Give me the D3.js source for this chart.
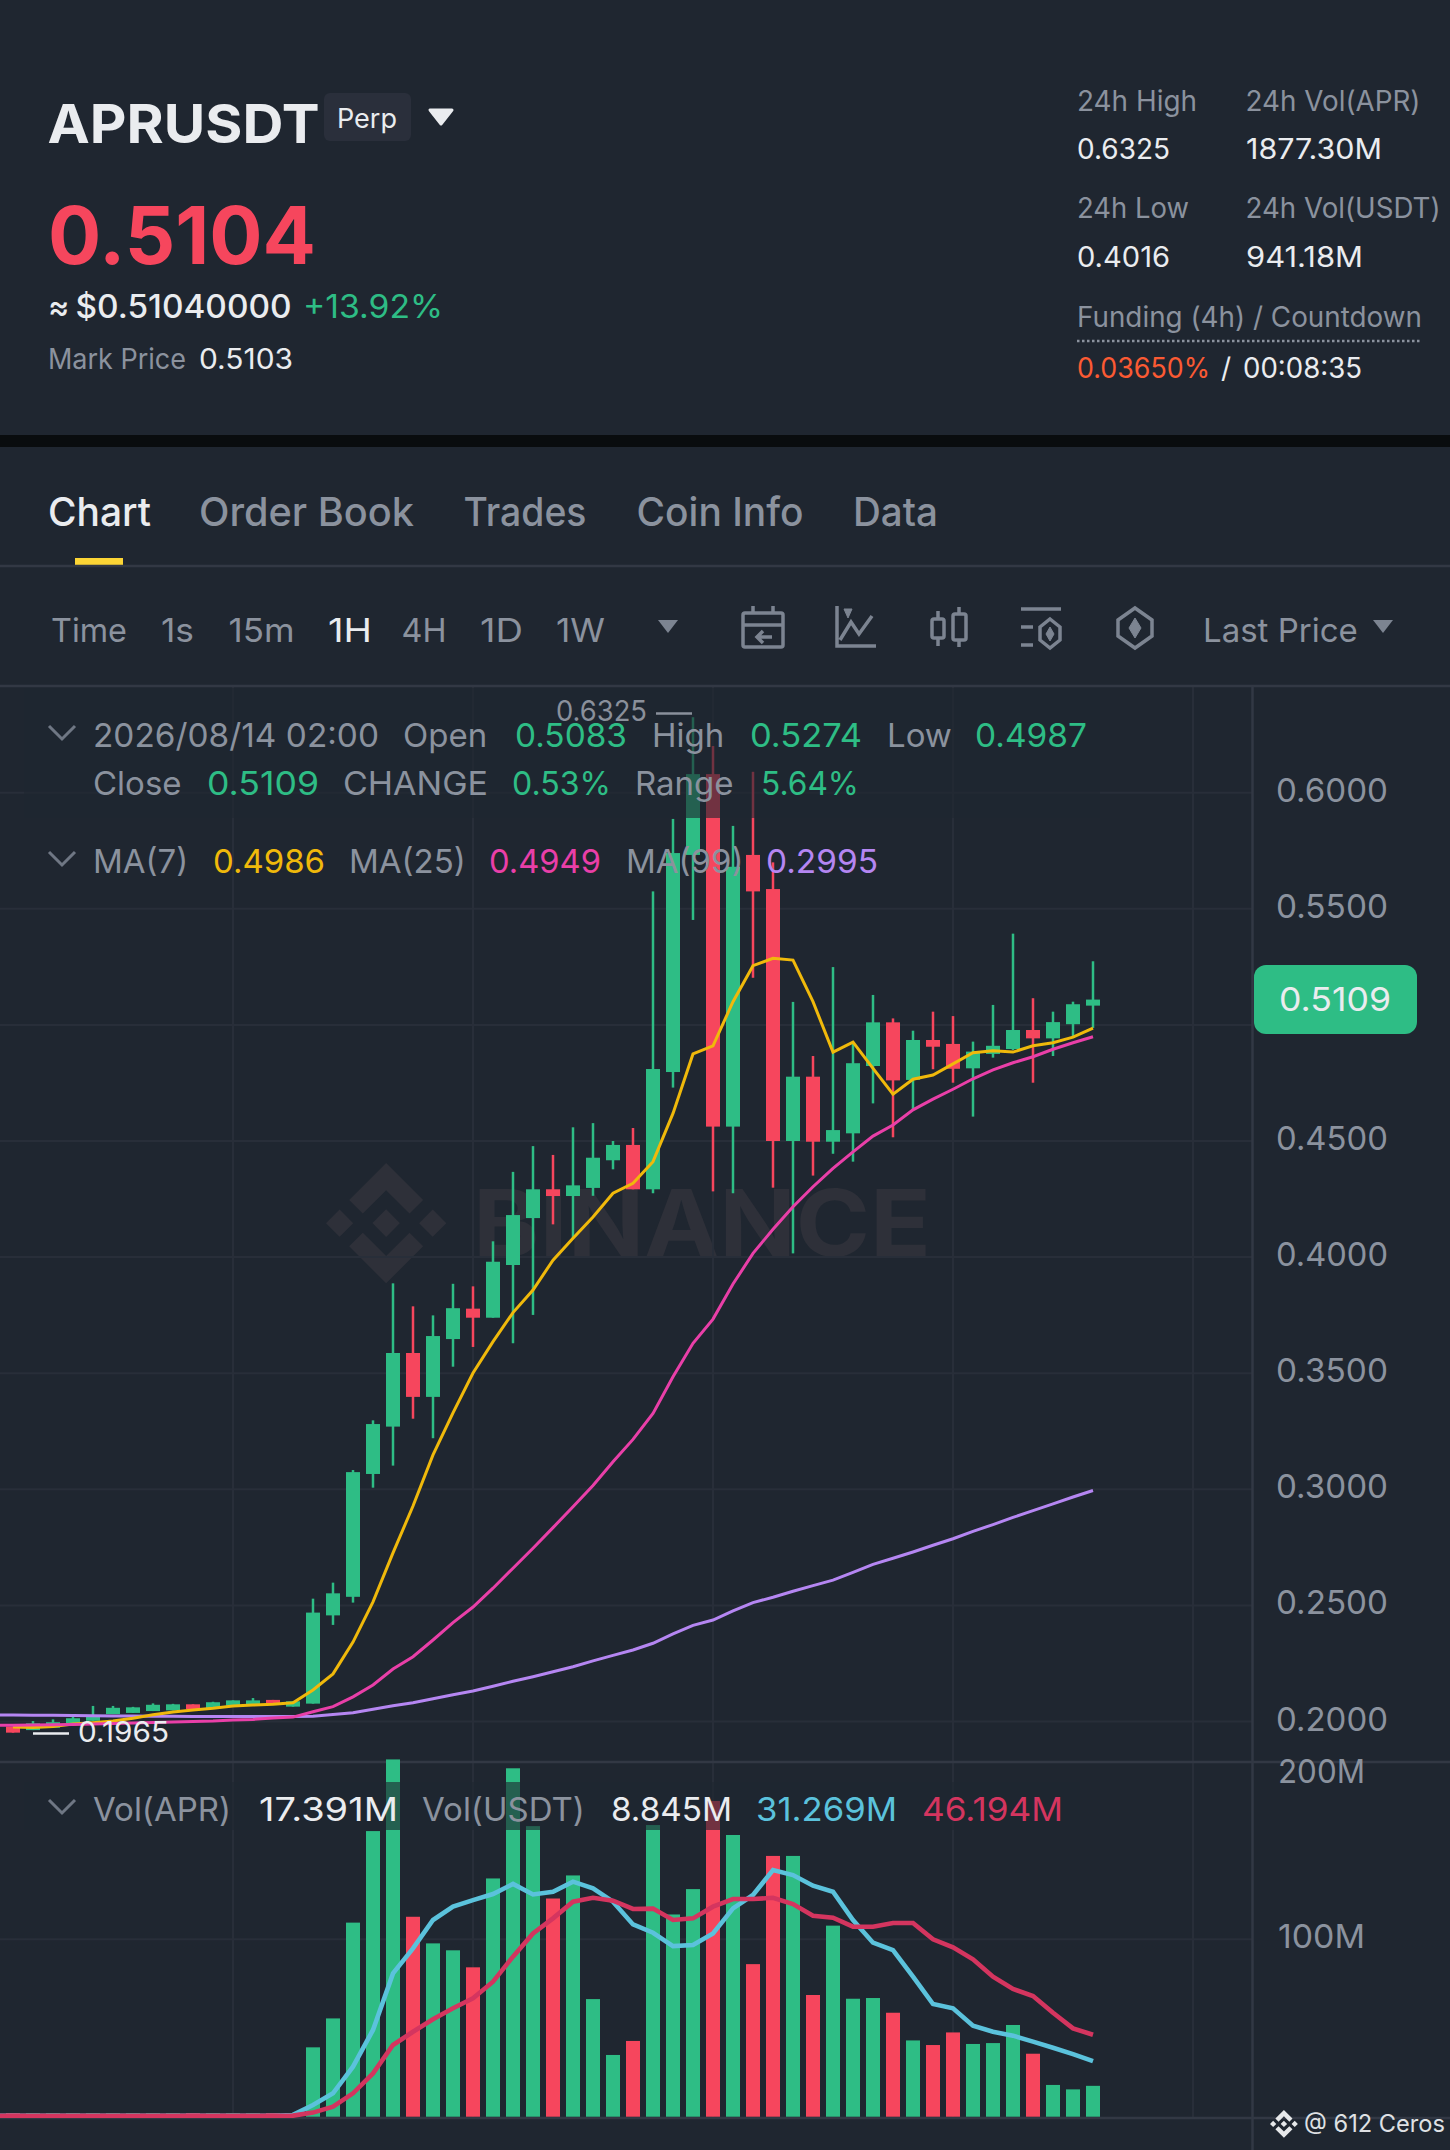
<!DOCTYPE html>
<html>
<head>
<meta charset="utf-8">
<script src="https://cdn.jsdelivr.net/npm/d3@7"></script>
<style>
  html, body { margin: 0; padding: 0; background: #1f2630; }
  svg { display: block; }
  text { font-family: Inter, "Noto Sans", sans-serif; }
</style>
</head>
<body>
<div id="svg-container"></div>
<script>
// Candles, oldest first
const open = [.1978,.1963,.1973,.1989,.2003,.2032,.2037,.2045,.2048,.2074,.2058,.2068,.2068,.2093,.2064,
  .2077,.2457,.2537,.3066,.3270,.3587,.3398,.3647,.3778,.3739,.3966,.4168,.4292,.4263,.4298,
  .4417,.4483,.4292,.4797,.5732,.6080,.4562,.5732,.5585,.4500,.4777,.4497,.4533,.4823,.5011,
  .4763,.4935,.4918,.4813,.4875,.4896,.4978,.4942,.5003,.5083];
const close = [.1952,.1992,.1997,.2014,.2021,.2059,.2061,.2072,.2074,.2053,.2083,.2091,.2091,.2072,.2087,
  .2469,.2552,.3074,.3281,.3587,.3398,.3660,.3780,.3739,.3980,.4181,.4292,.4263,.4309,.4428,
  .4483,.4292,.4810,.5740,.6080,.4562,.5681,.5575,.4500,.4777,.4497,.4547,.4835,.5011,.4761,
  .4935,.4906,.4811,.4885,.4910,.4978,.4942,.5012,.5089,.5109];
const high = [.1978,.2002,.2009,.2021,.2067,.2067,.2063,.2078,.2076,.2074,.2085,.2091,.2101,.2093,.2087,
  .2529,.2598,.3083,.3297,.3887,.3788,.3749,.3885,.3874,.4068,.4367,.4478,.4440,.4559,.4577,
  .4500,.4556,.5575,.5887,.6325,.6201,.5857,.6090,.5700,.5099,.4866,.5249,.4928,.5129,.5028,
  .4975,.5057,.5038,.4928,.5086,.5393,.5115,.5057,.5100,.5274];
const low = [.1952,.1963,.1973,.1989,.2003,.2032,.2037,.2045,.2048,.2053,.2058,.2068,.2068,.2072,.2064,
  .2077,.2416,.2512,.3007,.3102,.3304,.3220,.3528,.3613,.3739,.3629,.3751,.4141,.4082,.4264,
  .4378,.4292,.4275,.4730,.5452,.4283,.4275,.5203,.4299,.4016,.4351,.4445,.4411,.4662,.4516,
  .4633,.4809,.4751,.4605,.4859,.4892,.4751,.4866,.4952,.4987];

// Moving averages; ma25 and ma99 start one candle before the first visible one
const ma7 = [.1976,.1974,.1978,.1989,.1995,.2002,.2014,.2029,.2041,.2050,.2057,.2067,.2071,.2074,.2081,
  .2136,.2205,.2342,.2515,.2726,.2928,.3148,.3329,.3501,.3636,.3761,.3858,.3987,.4081,.4173,
  .4275,.4318,.4411,.4619,.4875,.4910,.5100,.5255,.5287,.5279,.5100,.4883,.4926,.4813,.4702,
  .4766,.4784,.4832,.4880,.4889,.4883,.4910,.4923,.4947,.4986];
const ma25 = [.1984,.1984,.1985,.1986,.1987,.1989,.1991,.1994,.1996,.1998,.2000,.2002,.2006,.2009,.2015,.2019,
  .2042,.2064,.2106,.2157,.2226,.2279,.2351,.2426,.2493,.2574,.2660,.2746,.2835,.2925,.3016,
  .3119,.3215,.3327,.3485,.3629,.3733,.3884,.4016,.4120,.4217,.4303,.4382,.4453,.4521,.4569,
  .4634,.4680,.4723,.4768,.4806,.4837,.4863,.4895,.4923,.4949];
const ma99 = [.2028,.2028,.2027,.2027,.2026,.2025,.2024,.2024,.2023,.2023,.2022,.2022,.2021,.2021,.2021,.2021,
  .2023,.2030,.2038,.2053,.2068,.2081,.2098,.2115,.2131,.2152,.2173,.2193,.2214,.2236,.2261,
  .2285,.2308,.2337,.2377,.2414,.2437,.2476,.2512,.2535,.2561,.2585,.2609,.2642,.2677,.2703,
  .2730,.2759,.2787,.2819,.2848,.2879,.2908,.2937,.2967,.2995];

// Volume in millions
const volume = [2,2,2,2,2,2,2,2,2,2,2,2,2,2,2,
  39.1,55.4,109.4,161,201.4,112.7,97.7,93.8,84.2,134.3,196.4,163.8,123,136,66.3,
  34.8,42.7,164.4,114,128.3,178,158.8,86,147,147,68.6,107.7,66.5,66.9,58.6,
  43,40.4,47.5,41,41.5,51.7,35.5,17.9,15.4,17.4];
const volFast = [.5,.5,.5,.5,.5,.5,.5,.5,.5,.5,.5,.5,.5,.5,.5,1,
  6.6,13.2,28.2,48.9,80.8,94.9,110.9,118.4,122.1,125.5,131.2,125.3,126.8,132.5,128.7,
  121.2,108.4,103.7,96.2,96.8,103.3,117.4,125,139,136.2,130.2,126.8,110.9,98.1,93.9,
  78.9,63.5,61.1,51.3,47.9,45.7,42.3,38.9,35.3,31.3];
const volSlow = [.5,.5,.5,.5,.5,.5,.5,.5,.5,.5,.5,.5,.5,.5,.5,.6,
  2.3,5.6,13.2,24.4,40.4,47.9,54.9,61.1,66.7,76.1,90.2,103.3,111.8,121.2,123.4,
  121.8,117.1,117.3,110.9,111.8,118.4,122.7,122.7,123.4,119.9,113.3,112.2,107.1,107.1,109.2,
  109.2,100,95.5,88.7,78.9,72,68,58.6,49.8,46.2];

const gridPrices = [0.6, 0.55, 0.5, 0.45, 0.4, 0.35, 0.3, 0.25, 0.2];
const priceTicks = [0.6, 0.55, 0.45, 0.4, 0.35, 0.3, 0.25, 0.2];
const volTicks = [200, 100];
const gridCandles = [11, 23, 35, 47, 59];

const tabs = ["Chart", "Order Book", "Trades", "Coin Info", "Data"];
const intervals = ["Time", "1s", "15m", "1H", "4H", "1D", "1W"];

const BG = "#1f2630", GREEN = "#2ebd85", RED = "#f6465d", GREY = "#8b929e", WHITE = "#eaecef",
      LINE = "#323844", GRID = "#282e39";
const YELLOW = "#f0b90b", PINK = "#e93fa8", PURPLE = "#b586f2", VOL_BLUE = "#5bc2dc", VOL_RED = "#d4355f";

const svg = d3.select("#svg-container").append("svg")
    .attr("width", 1450)
    .attr("height", 2150);

svg.append("rect").attr("width", 1450).attr("height", 2150).attr("fill", BG);

function label(x, y, s, size, fill, opts) {
    opts = opts || {};
    const t = svg.append("text")
        .attr("x", x)
        .attr("y", y)
        .attr("font-size", size)
        .attr("fill", fill)
        .attr("font-weight", opts.weight || 400)
        .text(s);
    if (opts.anchor) t.attr("text-anchor", opts.anchor);
    if (opts.width) t.attr("textLength", opts.width).attr("lengthAdjust", "spacingAndGlyphs");
    return t;
}

function chevron(x, y) {
    svg.append("path")
        .attr("d", `M${x} ${y}L${x + 13} ${y + 13}L${x + 26} ${y}`)
        .attr("fill", "none")
        .attr("stroke", "#6f7784")
        .attr("stroke-width", 3);
}

const LOGO = "M38.73 53.2l24.59-24.58 24.6 24.6 14.3-14.31L63.32 0 24.43 38.89zM0 63.31l14.3-14.31 14.31 14.31-14.31 14.3zM38.73 73.41l24.59 24.59 24.6-24.6 14.31 14.29L63.32 126.61 24.41 87.72zM98.01 63.31l14.3-14.31 14.3 14.31-14.3 14.3zM77.83 63.3L63.32 48.78 52.59 59.51l-1.23 1.23-2.54 2.54 14.5 14.5 14.51-14.5z";

// ---------- Header ----------
label(47.5, 143, "APRUSDT", 54, WHITE, { weight: 700, width: 272 });
svg.append("rect").attr("x", 324).attr("y", 93).attr("width", 87).attr("height", 48).attr("rx", 6).attr("fill", "#2a2f3b");
label(337, 128, "Perp", 27, WHITE, { width: 60 });
svg.append("path").attr("d", "M430 110L452 110L441 124Z").attr("fill", WHITE)
    .attr("stroke", WHITE).attr("stroke-width", 3).attr("stroke-linejoin", "round");

label(48, 264, "0.5104", 80, RED, { weight: 700, width: 268 });
label(48, 318, "≈", 32, WHITE, { weight: 500 });
label(75.5, 318, "$0.51040000", 32, WHITE, { weight: 500, width: 216 });
label(303, 318, "+13.92%", 32, GREEN, { width: 140 });
label(48, 369, "Mark Price", 28, GREY, { width: 138 });
label(199, 369, "0.5103", 28, WHITE, { width: 94 });

label(1077, 111, "24h High", 28, GREY, { width: 120 });
label(1245.5, 111, "24h Vol(APR)", 28, GREY, { width: 175 });
label(1077, 159, "0.6325", 28, WHITE, { width: 93 });
label(1246, 159, "1877.30M", 28, WHITE, { width: 136 });
label(1077, 218, "24h Low", 28, GREY, { width: 112 });
label(1245.5, 218, "24h Vol(USDT)", 28, GREY, { width: 195 });
label(1077, 267, "0.4016", 28, WHITE, { width: 93 });
label(1246, 267, "941.18M", 28, WHITE, { width: 117 });
label(1077, 327, "Funding (4h) / Countdown", 28, GREY, { width: 345 });
svg.append("line").attr("x1", 1077).attr("x2", 1422).attr("y1", 341).attr("y2", 341)
    .attr("stroke", GREY).attr("stroke-width", 2.5).attr("stroke-dasharray", "2.5 2.5");
label(1077, 378, "0.03650%", 28, "#fb5a33", { width: 133 });
label(1221, 378, "/", 28, WHITE);
label(1243, 378, "00:08:35", 28, WHITE, { width: 119 });

svg.append("rect").attr("y", 435).attr("width", 1450).attr("height", 12).attr("fill", "#090c0e");

// ---------- Tabs and toolbar ----------
const tabX = [48, 199, 463.5, 636.5, 853];
const tabW = [103, 215, 123, 167, 85];
tabs.forEach((d, i) => label(tabX[i], 526, d, 39, i === 0 ? WHITE : GREY, { weight: 500, width: tabW[i] }));
svg.append("rect").attr("x", 75).attr("y", 558).attr("width", 48).attr("height", 9).attr("fill", "#fcd535");

const intervalX = [51, 161, 228.5, 328, 401.5, 480, 556];
const intervalW = [76, 33, 66, 44, 45, 43, 49];
intervals.forEach((d, i) => label(intervalX[i], 642, d, 33, d === "1H" ? WHITE : GREY, { width: intervalW[i] }));
label(1203, 642, "Last Price", 33, GREY);
[[658, 620], [1373, 620]].forEach(p => {
    svg.append("path").attr("d", `M${p[0]} ${p[1]}h20l-10 13z`).attr("fill", "#7c8491");
});

const icons = svg.append("g").attr("fill", "none").attr("stroke", "#7c8491").attr("stroke-width", 3.5);
icons.append("rect").attr("x", 743).attr("y", 613).attr("width", 40).attr("height", 34).attr("rx", 2);
icons.append("path").attr("d", "M743 625H783M753 606V613M773 606V613M772 637H757M763 631L757 637L763 643");
icons.append("path").attr("d", "M837 606V646H876M840 640L851 622L859 634L872 616");
icons.append("path").attr("d", "M844 609L852 609L848 618Z").attr("fill", "#7c8491").attr("stroke-width", 1);
icons.append("rect").attr("x", 932).attr("y", 619).attr("width", 12).attr("height", 19).attr("rx", 2);
icons.append("rect").attr("x", 953).attr("y", 614).attr("width", 13).attr("height", 26).attr("rx", 2);
icons.append("path").attr("d", "M938 611V619M938 638V646M959 607V614M959 640V647");
icons.append("path").attr("d", "M1021 609H1061M1021 627H1033M1021 645H1033M1050 619L1060 627V640L1050 648L1040 640V627Z");
icons.append("path").attr("d", "M1050 627L1054 634L1050 641L1046 634Z").attr("fill", "#7c8491").attr("stroke-width", 1);
icons.append("path").attr("d", "M1135 608L1152 620V636L1135 648L1118 636V620Z");
icons.append("path").attr("d", "M1135 618L1141 628L1135 638L1129 628Z").attr("fill", "#7c8491").attr("stroke-width", 1);

// ---------- Scales ----------
const x = d3.scaleLinear().domain([0, 54]).range([13, 1093]);
const yPrice = d3.scaleLinear().domain([0.2, 0.6]).range([1721.5, 792.7]);
const yVol = d3.scaleLinear().domain([0, 100]).range([2116.7, 1939.3]);

// ---------- Watermark ----------
const mark = svg.append("g").attr("fill", "#2e3039");
mark.append("path").attr("d", LOGO).attr("transform", "translate(326,1163) scale(0.95)");
mark.append("text")
    .attr("x", 473).attr("y", 1256)
    .attr("font-size", 92).attr("font-weight", 700)
    .attr("textLength", 458).attr("lengthAdjust", "spacingAndGlyphs")
    .text("BINANCE");

// ---------- Grid and panel lines ----------
const grid = svg.append("g").attr("stroke", GRID).attr("stroke-width", 2);
grid.selectAll("line.h")
    .data(gridPrices.map(d => yPrice(d)).concat([yVol(100)]))
    .enter().append("line").attr("class", "h")
    .attr("x1", 0).attr("x2", 1252)
    .attr("y1", d => d).attr("y2", d => d);
grid.selectAll("line.v")
    .data(gridCandles)
    .enter().append("line").attr("class", "v")
    .attr("x1", d => x(d)).attr("x2", d => x(d))
    .attr("y1", 686).attr("y2", 2117);

const rules = svg.append("g").attr("stroke", LINE).attr("stroke-width", 2.5);
[566, 686, 1762, 2118].forEach(y => {
    rules.append("line").attr("x1", 0).attr("x2", 1450).attr("y1", y).attr("y2", y);
});
rules.append("line").attr("x1", 1252.5).attr("x2", 1252.5).attr("y1", 686).attr("y2", 2150);

// ---------- Candles ----------
const idx = d3.range(open.length);
const colorOf = i => close[i] >= open[i] ? GREEN : RED;

const candles = svg.append("g").selectAll("g").data(idx).enter().append("g").attr("fill", colorOf);
candles.append("rect")
    .attr("x", i => x(i) - 1.25)
    .attr("width", 2.5)
    .attr("y", i => yPrice(high[i]))
    .attr("height", i => yPrice(low[i]) - yPrice(high[i]));
candles.append("rect")
    .attr("x", i => x(i) - 7)
    .attr("width", 14)
    .attr("y", i => yPrice(Math.max(open[i], close[i])))
    .attr("height", i => Math.max(2, Math.abs(yPrice(open[i]) - yPrice(close[i]))));

// ---------- Volume bars ----------
svg.append("g").selectAll("rect").data(idx).enter().append("rect")
    .attr("x", i => x(i) - 7)
    .attr("width", 14)
    .attr("y", i => yVol(volume[i]))
    .attr("height", i => yVol(0) - yVol(volume[i]))
    .attr("fill", colorOf);

// ---------- Moving averages ----------
svg.append("clipPath").attr("id", "chart-clip").append("rect")
    .attr("x", 0).attr("y", 686).attr("width", 1252).attr("height", 1432);

function drawLine(values, firstIndex, yScale, color, width) {
    const line = d3.line().x((d, i) => x(i + firstIndex)).y(d => yScale(d));
    svg.append("path")
        .attr("d", line(values))
        .attr("fill", "none")
        .attr("stroke", color)
        .attr("stroke-width", width)
        .attr("clip-path", "url(#chart-clip)");
}

drawLine(ma99, -1, yPrice, PURPLE, 3);
drawLine(ma7, 0, yPrice, YELLOW, 3);
drawLine(ma25, -1, yPrice, PINK, 3);
drawLine(volFast, -1, yVol, VOL_BLUE, 4.6);
drawLine(volSlow, -1, yVol, VOL_RED, 4.6);

// ---------- Low marker ----------
label(78, 1742, "0.1965", 29, WHITE, { width: 91 });
svg.append("line").attr("x1", 33).attr("x2", 69).attr("y1", 1733.5).attr("y2", 1733.5)
    .attr("stroke", WHITE).attr("stroke-width", 2.5);

// ---------- Legend backdrops dim whatever runs under the text ----------
svg.append("rect").attr("x", 24).attr("y", 688).attr("width", 1076).attr("height", 130)
    .attr("fill", BG).attr("opacity", 0.62);
svg.append("rect").attr("x", 24).attr("y", 1782).attr("width", 1056).attr("height", 48)
    .attr("fill", BG).attr("opacity", 0.62);

// High marker sits in the dimmed strip
label(556, 721, "0.6325", 29, "#8a909b", { width: 91 });
svg.append("line").attr("x1", 656).attr("x2", 692).attr("y1", 713.5).attr("y2", 713.5)
    .attr("stroke", "#8a909b").attr("stroke-width", 2.5);

// ---------- Legends ----------
chevron(49, 726);
label(93, 747, "2026/08/14 02:00", 33, GREY, { width: 286 });
label(403, 747, "Open", 33, GREY);
label(515, 747, "0.5083", 33, GREEN, { width: 112 });
label(652, 747, "High", 33, GREY);
label(750, 747, "0.5274", 33, GREEN, { width: 112 });
label(887, 747, "Low", 33, GREY);
label(975, 747, "0.4987", 33, GREEN, { width: 112 });

label(93, 795, "Close", 33, GREY);
label(207, 795, "0.5109", 33, GREEN, { width: 112 });
label(343, 795, "CHANGE", 33, GREY, { width: 145 });
label(512, 795, "0.53%", 33, GREEN, { width: 99 });
label(635, 795, "Range", 33, GREY);
label(761, 795, "5.64%", 33, GREEN, { width: 98 });

chevron(49, 852);
label(93, 873, "MA(7)", 33, GREY);
label(213, 873, "0.4986", 33, YELLOW, { width: 112 });
label(349, 873, "MA(25)", 33, GREY);
label(489, 873, "0.4949", 33, PINK, { width: 112 });
label(626, 873, "MA(99)", 33, GREY);
label(766, 873, "0.2995", 33, PURPLE, { width: 112 });

chevron(49, 1800);
label(93, 1821, "Vol(APR)", 33, GREY);
label(259, 1821, "17.391M", 33, WHITE, { width: 139 });
label(422, 1821, "Vol(USDT)", 33, GREY);
label(611, 1821, "8.845M", 33, WHITE, { width: 121 });
label(756, 1821, "31.269M", 33, VOL_BLUE, { width: 141 });
label(922, 1821, "46.194M", 33, VOL_RED, { width: 141 });

// ---------- Axes ----------
const priceAxis = d3.axisRight(yPrice)
    .tickValues(priceTicks)
    .tickFormat(d3.format(".4f"))
    .tickSize(0)
    .tickPadding(0);
const priceG = svg.append("g").attr("transform", "translate(1276,0)").call(priceAxis);
priceG.select(".domain").remove();
priceG.selectAll("text")
    .attr("font-family", 'Inter, "Noto Sans", sans-serif')
    .attr("font-size", 33)
    .attr("fill", GREY)
    .attr("dy", 8.5)
    .attr("textLength", 112)
    .attr("lengthAdjust", "spacingAndGlyphs");

const volAxis = d3.axisRight(yVol)
    .tickValues(volTicks)
    .tickFormat(d => d + "M")
    .tickSize(0)
    .tickPadding(0);
const volG = svg.append("g").attr("transform", "translate(1278,0)").call(volAxis);
volG.select(".domain").remove();
volG.selectAll("text")
    .attr("font-family", 'Inter, "Noto Sans", sans-serif')
    .attr("font-size", 33)
    .attr("fill", GREY)
    .attr("dy", d => d === 200 ? 21 : 8.5)
    .attr("textLength", 87)
    .attr("lengthAdjust", "spacingAndGlyphs");

// Last price badge
svg.append("rect").attr("x", 1254).attr("y", 965).attr("width", 163).attr("height", 69).attr("rx", 12).attr("fill", GREEN);
label(1279, 1011, "0.5109", 33, WHITE, { width: 112 });

// Bottom right stamp
svg.append("path").attr("d", LOGO).attr("transform", "translate(1270,2110) scale(0.22)").attr("fill", "#e6e8ea");
label(1304, 2132, "@ 612 Ceros", 24, "#dfe1e4", { width: 141 });
</script>
</body>
</html>
